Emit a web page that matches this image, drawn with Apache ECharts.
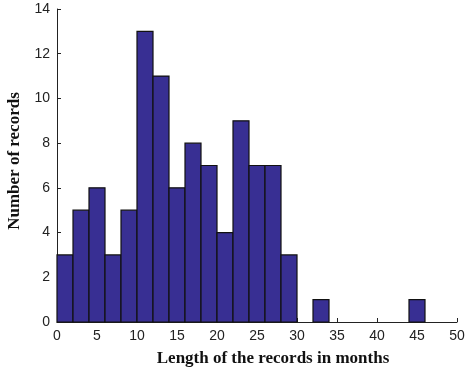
<!DOCTYPE html>
<html>
<head>
<meta charset="utf-8">
<script src="https://cdn.jsdelivr.net/npm/echarts@6/dist/echarts.min.js"></script>
<style>html,body{margin:0;padding:0;background:#fff;}#c{width:474px;height:376px;}</style>
</head>
<body>
<div id="c"></div>
<script>
var binStarts = [0,2,4,6,8,10,12,14,16,18,20,22,24,26,28,30,32,34,36,38,40,42,44,46];
var binWidth = 2;
var counts = [3,5,6,3,5,13,11,6,8,7,4,9,7,7,3,0,1,0,0,0,0,0,1,0];
var xTicks = [0,5,10,15,20,25,30,35,40,45,50];
var yTicks = [0,2,4,6,8,10,12,14];
var xTitle = 'Length of the records in months';
var yTitle = 'Number of records';

var data = binStarts.map(function(s,i){return [s, s+binWidth, counts[i]];});
var chart = echarts.init(document.getElementById('c'));
var tickFont = {fontFamily:'Liberation Sans', fontSize:14, color:'#222'};
chart.setOption({
  animation:false,
  grid:{left:57,right:17,top:9,bottom:54,containLabel:false,outerBoundsMode:'none'},
  xAxis:{type:'value',min:0,max:50,interval:5,
    axisLine:{lineStyle:{color:'#222',width:1}},
    axisTick:{inside:true,length:4,lineStyle:{color:'#222'}},
    axisLabel:Object.assign({margin:7},tickFont),
    splitLine:{show:false},
    name:xTitle,nameLocation:'middle',nameGap:28,
    nameTextStyle:{fontFamily:'Liberation Serif',fontWeight:'bold',fontSize:17,color:'#111',padding:[0,0,0,32]}},
  yAxis:{type:'value',min:0,max:14,interval:2,
    axisLine:{show:true,lineStyle:{color:'#222',width:1}},
    axisTick:{show:true,inside:true,length:4,lineStyle:{color:'#222'}},
    axisLabel:Object.assign({margin:7},tickFont),
    splitLine:{show:false},
    name:yTitle,nameLocation:'middle',nameGap:34,
    nameTextStyle:{fontFamily:'Liberation Serif',fontWeight:'bold',fontSize:17,color:'#111',padding:[0,0,0,9]}},
  series:[{type:'custom',
    renderItem:function(params,api){
      var p0=api.coord([api.value(0),api.value(2)]);
      var p1=api.coord([api.value(1),0]);
      if(api.value(2)<=0) return null;
      return {type:'rect',shape:{x:p0[0],y:p0[1],width:p1[0]-p0[0],height:p1[1]-p0[1]},
        style:{fill:'#382f93',stroke:'#111',lineWidth:1.2}};
    },
    encode:{x:[0,1],y:2},
    data:data}]
});
</script>
</body>
</html>
